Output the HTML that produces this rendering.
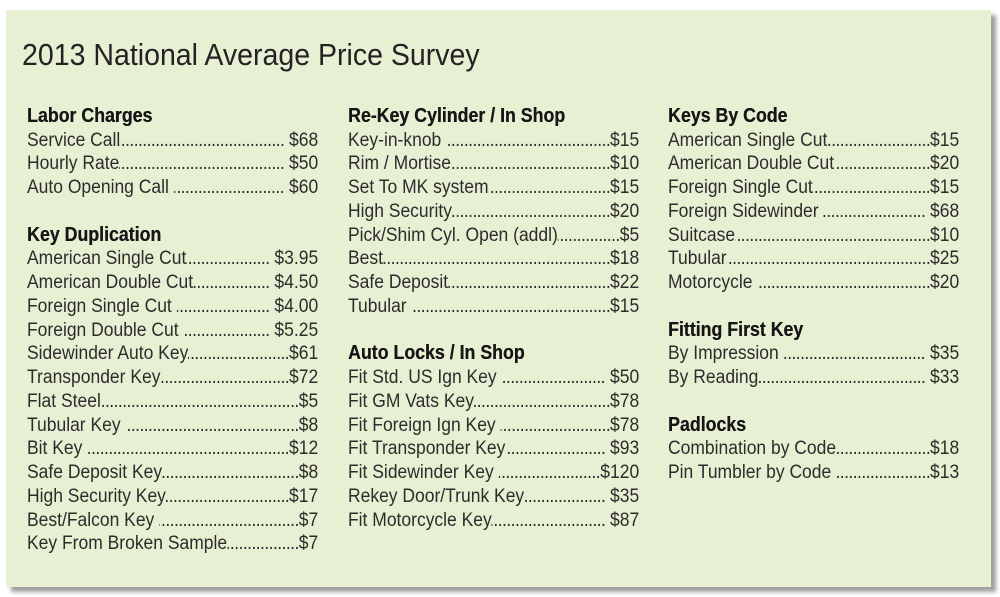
<!DOCTYPE html>
<html>
<head>
<meta charset="utf-8">
<style>
  html,body{margin:0;padding:0;background:#ffffff;}
  body{width:1000px;height:597px;position:relative;overflow:hidden;font-family:"Liberation Sans",Arial,sans-serif;}
  .panel{position:absolute;left:6px;top:10px;width:985px;height:577px;background:#e8f0d3;box-shadow:5px 5px 4px rgba(0,0,0,0.38);}
  .title{position:absolute;left:22px;top:38.5px;font-size:31px;line-height:1;color:#232323;white-space:nowrap;transform:scaleX(0.92);transform-origin:0 0;letter-spacing:0;}
  .col{position:absolute;top:104.8px;width:316.5px;transform:scaleX(0.92);transform-origin:0 0;color:#2c2c2c;font-size:19px;line-height:23.75px;}
  .r{display:flex;white-space:nowrap;height:23.75px;}
  .r .l{flex:none;}
  .r .d{flex:1;overflow:hidden;direction:rtl;letter-spacing:-0.6px;}
  .r .d::before{content:"..............................................................................................................................";}
  .r .p{flex:none;}
  .h{font-weight:bold;font-size:20px;color:#161616;height:23.75px;white-space:nowrap;text-shadow:0.3px 0 0 #161616;}
  .h span{display:inline-block;transform:scaleX(0.965);transform-origin:0 0;}
  .sp{height:23.75px;}
</style>
</head>
<body>
<div class="panel"></div>
<div class="title">2013 National Average Price Survey</div>

<div class="col" style="left:27px;">
  <div class="h"><span>Labor Charges</span></div>
  <div class="r"><span class="l">Service Call</span><span class="d"></span><span class="p">&nbsp;$68</span></div>
  <div class="r"><span class="l">Hourly Rate</span><span class="d"></span><span class="p">&nbsp;$50</span></div>
  <div class="r"><span class="l">Auto Opening Call&nbsp;</span><span class="d"></span><span class="p">&nbsp;$60</span></div>
  <div class="sp"></div>
  <div class="h"><span>Key Duplication</span></div>
  <div class="r"><span class="l">American Single Cut</span><span class="d"></span><span class="p">&nbsp;$3.95</span></div>
  <div class="r"><span class="l">American Double Cut</span><span class="d"></span><span class="p">&nbsp;$4.50</span></div>
  <div class="r"><span class="l">Foreign Single Cut&nbsp;</span><span class="d"></span><span class="p">&nbsp;$4.00</span></div>
  <div class="r"><span class="l">Foreign Double Cut&nbsp;</span><span class="d"></span><span class="p">&nbsp;$5.25</span></div>
  <div class="r"><span class="l">Sidewinder Auto Key</span><span class="d"></span><span class="p">$61</span></div>
  <div class="r"><span class="l">Transponder Key</span><span class="d"></span><span class="p">$72</span></div>
  <div class="r"><span class="l">Flat Steel</span><span class="d"></span><span class="p">$5</span></div>
  <div class="r"><span class="l">Tubular Key&nbsp;</span><span class="d"></span><span class="p">$8</span></div>
  <div class="r"><span class="l">Bit Key&nbsp;</span><span class="d"></span><span class="p">$12</span></div>
  <div class="r"><span class="l">Safe Deposit Key</span><span class="d"></span><span class="p">$8</span></div>
  <div class="r"><span class="l">High Security Key</span><span class="d"></span><span class="p">$17</span></div>
  <div class="r"><span class="l">Best/Falcon Key&nbsp;</span><span class="d"></span><span class="p">$7</span></div>
  <div class="r"><span class="l">Key From Broken Sample</span><span class="d"></span><span class="p">$7</span></div>
</div>

<div class="col" style="left:348px;">
  <div class="h"><span>Re-Key Cylinder / In Shop</span></div>
  <div class="r"><span class="l">Key-in-knob&nbsp;</span><span class="d"></span><span class="p">$15</span></div>
  <div class="r"><span class="l">Rim / Mortise</span><span class="d"></span><span class="p">$10</span></div>
  <div class="r"><span class="l">Set To MK system</span><span class="d"></span><span class="p">$15</span></div>
  <div class="r"><span class="l">High Security</span><span class="d"></span><span class="p">$20</span></div>
  <div class="r"><span class="l">Pick/Shim Cyl. Open (addl)</span><span class="d"></span><span class="p">$5</span></div>
  <div class="r"><span class="l">Best</span><span class="d"></span><span class="p">$18</span></div>
  <div class="r"><span class="l">Safe Deposit</span><span class="d"></span><span class="p">$22</span></div>
  <div class="r"><span class="l">Tubular&nbsp;</span><span class="d"></span><span class="p">$15</span></div>
  <div class="sp"></div>
  <div class="h"><span>Auto Locks / In Shop</span></div>
  <div class="r"><span class="l">Fit Std. US Ign Key&nbsp;</span><span class="d"></span><span class="p">&nbsp;$50</span></div>
  <div class="r"><span class="l">Fit GM Vats Key</span><span class="d"></span><span class="p">$78</span></div>
  <div class="r"><span class="l">Fit Foreign Ign Key&nbsp;</span><span class="d"></span><span class="p">$78</span></div>
  <div class="r"><span class="l">Fit Transponder Key</span><span class="d"></span><span class="p">&nbsp;$93</span></div>
  <div class="r"><span class="l">Fit Sidewinder Key&nbsp;</span><span class="d"></span><span class="p">$120</span></div>
  <div class="r"><span class="l">Rekey Door/Trunk Key</span><span class="d"></span><span class="p">&nbsp;$35</span></div>
  <div class="r"><span class="l">Fit Motorcycle Key</span><span class="d"></span><span class="p">&nbsp;$87</span></div>
</div>

<div class="col" style="left:668px;">
  <div class="h"><span>Keys By Code</span></div>
  <div class="r"><span class="l">American Single Cut</span><span class="d"></span><span class="p">$15</span></div>
  <div class="r"><span class="l">American Double Cut</span><span class="d"></span><span class="p">$20</span></div>
  <div class="r"><span class="l">Foreign Single Cut</span><span class="d"></span><span class="p">$15</span></div>
  <div class="r"><span class="l">Foreign Sidewinder&nbsp;</span><span class="d"></span><span class="p">&nbsp;$68</span></div>
  <div class="r"><span class="l">Suitcase</span><span class="d"></span><span class="p">$10</span></div>
  <div class="r"><span class="l">Tubular</span><span class="d"></span><span class="p">$25</span></div>
  <div class="r"><span class="l">Motorcycle&nbsp;</span><span class="d"></span><span class="p">$20</span></div>
  <div class="sp"></div>
  <div class="h"><span>Fitting First Key</span></div>
  <div class="r"><span class="l">By Impression&nbsp;</span><span class="d"></span><span class="p">&nbsp;$35</span></div>
  <div class="r"><span class="l">By Reading</span><span class="d"></span><span class="p">&nbsp;$33</span></div>
  <div class="sp"></div>
  <div class="h"><span>Padlocks</span></div>
  <div class="r"><span class="l">Combination by Code</span><span class="d"></span><span class="p">$18</span></div>
  <div class="r"><span class="l">Pin Tumbler by Code&nbsp;</span><span class="d"></span><span class="p">$13</span></div>
</div>
</body>
</html>
